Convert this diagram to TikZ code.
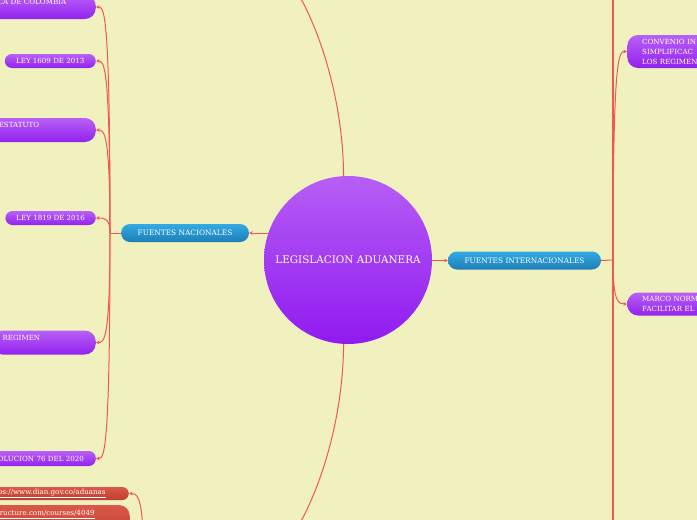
\documentclass[tikz,border=0pt]{standalone}
\usepackage{fontspec}
\setmainfont{DejaVu Serif}
\usetikzlibrary{arrows.meta}
\definecolor{bgc}{RGB}{240,241,190}
\definecolor{lc}{RGB}{242,88,82}
\definecolor{pTop}{RGB}{184,96,246}
\definecolor{pBot}{RGB}{146,34,238}
\definecolor{cTop}{RGB}{182,94,245}
\definecolor{cBot}{RGB}{144,26,240}
\definecolor{bTop}{RGB}{50,170,228}
\definecolor{bBot}{RGB}{30,126,182}
\definecolor{rTop}{RGB}{218,88,72}
\definecolor{rBot}{RGB}{192,62,48}
\pgfdeclarelayer{bg}
\pgfdeclarelayer{lines}
\pgfsetlayers{bg,lines,main}
\newcommand\fsm{\fontsize{7.1}{10}\selectfont}
\newcommand\fsb{\fontsize{7.4}{10}\selectfont}
\tikzset{
  conn/.style={draw=lc, line width=1pt},
  mk/.style={-{Stealth[length=3.5pt,width=3.5pt]}},
  pnode/.style={rounded corners=7pt, top color=pTop, bottom color=pBot, text=white,
    font=\fsm, inner xsep=11pt, inner ysep=0pt, minimum height=14pt},
  pmulti/.style={pnode, align=left, minimum height=24pt, rounded corners=11pt},
  psingle/.style={pnode, align=left, minimum height=15pt},
  bnode/.style={rounded corners=9pt, top color=bTop, bottom color=bBot, text=white,
    font=\fsb, inner sep=0pt, minimum height=18pt},
  rnode/.style={rounded corners=6.5pt, top color=rTop, bottom color=rBot, text=white,
    font=\fsm, inner xsep=11pt, inner ysep=0pt, align=left},
  circ/.style={circle, minimum size=168pt, inner sep=0pt, top color=cTop, bottom color=cBot,
    text=white, font=\fontsize{10.4}{12}\selectfont}
}
\begin{document}
\begin{tikzpicture}[x=1pt,y=-1pt]
\useasboundingbox (0,0) rectangle (697,520);
\begin{pgfonlayer}{bg}
\fill[bgc] (0,0) rectangle (697,520);
\end{pgfonlayer}

% central
\node[circ] (root) at (348,260) {LEGISLACION ADUANERA};
\node[bnode, minimum width=128pt] (fn) at (185,233) {FUENTES NACIONALES};
\node[bnode, minimum width=153pt] (fi) at (524.5,260.5) {FUENTES INTERNACIONALES};

% left children
\node[pmulti, text width=87pt, anchor=east] (c1) at (96,7) {CA DE COLOMBIA\\\mbox{}};
\node[pnode, anchor=east, minimum width=91pt] (c2) at (96,61) {LEY 1609 DE 2013};
\node[pmulti, text width=86pt, anchor=east] (c3) at (96,130) {ESTATUTO\\\mbox{}};
\node[pnode, anchor=east, minimum width=90pt] (c4) at (96,218) {LEY 1819 DE 2016};
\node[pmulti, text width=82.3pt, anchor=east] (c5) at (96,342.5) {REGIMEN\\\mbox{}};
\node[psingle, text width=87pt, anchor=east] (c6) at (96,458.5) {OLUCION 76 DEL 2020};

% right children
\node[pmulti, anchor=west, text width=120pt, inner xsep=15pt, minimum height=33pt] (d1) at (627,51.5) {CONVENIO IN\\SIMPLIFICAC\\LOS REGIMEN};
\node[pmulti, anchor=west, text width=120pt, inner xsep=15pt, minimum height=23pt] (d2) at (627,304) {MARCO NORM\\FACILITAR EL};

% red link nodes
\node[rnode, anchor=east, text width=120pt, minimum height=13pt] (r1) at (129,493.5) {\underline{ps://www.dian.gov.co/aduanas}};
\node[rnode, anchor=east, text width=119pt, minimum height=36pt, rounded corners=11pt] (r2) at (130,523) {\underline{ructure.com/courses/4049}\\\mbox{}\\\mbox{}};

\coordinate (j1) at (110,233);
\coordinate (j2) at (613,260);
\coordinate (j3) at (143,545);
\coordinate (tp) at (296,-10);
\coordinate (bt) at (296,530);
\coordinate (rtop) at (613,-20);
\coordinate (rbot) at (613,540);

\begin{pgfonlayer}{lines}
\draw[conn, line width=1.25pt] (j2) -- (rtop);
\draw[conn, line width=1.25pt] (j2) -- (rbot);
\draw[conn, mk] (root.center |- fn.east) -- (fn.east);
\draw[conn] (fn.west) -- (j1);
\foreach \c in {c1,c2,c3,c4,c5,c6}{
  \draw[conn, mk] (j1) .. controls (j1 |- \c.east) and ([xshift=8pt]\c.east) .. (\c.east);
}
\draw[conn, mk] (root.center |- fi.west) -- (fi.west);
\draw[conn] (fi.east) -- (j2);
\foreach \d in {d1,d2}{
  \draw[conn, mk] (j2) .. controls (j2 |- \d.west) and ([xshift=-8pt]\d.west) .. (\d.west);
}
\draw[conn] (root.93) .. controls (343,100) and (320,30) .. (tp);
\draw[conn] (root.267) .. controls (343,420) and (320,490) .. (bt);
\draw[conn, mk] (j3) .. controls (j3 |- r1.east) and ([xshift=7pt]r1.east) .. (r1.east);
\draw[conn, mk] (j3) .. controls (j3 |- r2.east) and ([xshift=7pt]r2.east) .. (r2.east);
\end{pgfonlayer}
\end{tikzpicture}
\end{document}
